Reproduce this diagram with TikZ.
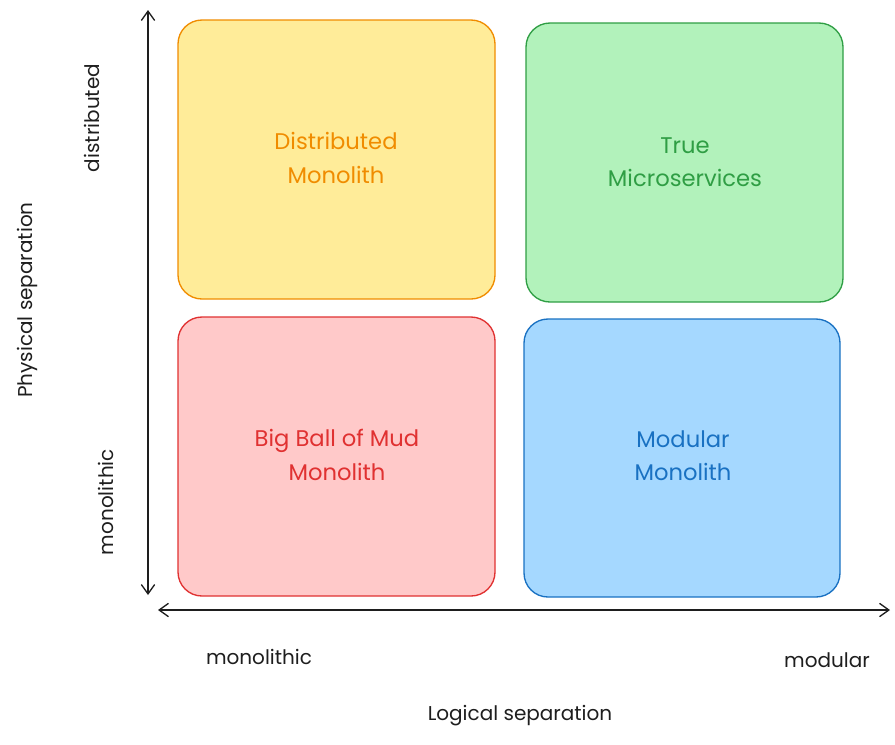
\documentclass[tikz,border=0pt]{standalone}
\usepackage{fontspec}
\setmainfont{Poppins}
\usetikzlibrary{arrows.meta}
\definecolor{yfill}{HTML}{FFEC99}\definecolor{ystroke}{HTML}{F08C00}
\definecolor{gfill}{HTML}{B2F2BB}\definecolor{gstroke}{HTML}{2F9E44}
\definecolor{rfill}{HTML}{FFC9C9}\definecolor{rstroke}{HTML}{E03131}
\definecolor{bfill}{HTML}{A5D8FF}\definecolor{bstroke}{HTML}{1971C2}
\definecolor{ink}{HTML}{1E1E1E}
\begin{document}
\begin{tikzpicture}[x=0.75pt,y=-0.75pt,
  box/.style={rounded corners=18pt,line width=1pt},
  btxt/.style={font=\fontsize{17}{25}\selectfont,align=center},
  lab/.style={font=\fontsize{15}{18}\selectfont,text=ink},
  ax/.style={line width=1pt,draw=ink,{Straight Barb[length=7pt,width=10pt]}-{Straight Barb[length=7pt,width=10pt]}}]
\useasboundingbox (0,0) rectangle (895,744);
\draw[box,fill=yfill,draw=ystroke] (178,20) rectangle (495,299);
\draw[box,fill=gfill,draw=gstroke] (526,23) rectangle (843,302);
\draw[box,fill=rfill,draw=rstroke] (178,317) rectangle (495,596);
\draw[box,fill=bfill,draw=bstroke] (524,319) rectangle (840,597);
\node[btxt,text=ystroke] (dm) at (336,158) {Distributed\\Monolith};
\node[btxt,text=gstroke] (tm) at (685,162) {True\\Microservices};
\node[btxt,text=rstroke] (bb) at (337,455) {Big Ball of Mud\\Monolith};
\node[btxt,text=bstroke] (mm) at (683,456) {Modular\\Monolith};
\coordinate (vt) at (148,10); \coordinate (vb) at (148,595);
\coordinate (hl) at (158,610); \coordinate (hr) at (890,610);
\draw[ax] (vt) -- (vb);
\draw[ax] (hl) -- (hr);
\node[lab,rotate=90] (d) at (92,118) {distributed};
\node[lab,rotate=90] (m1) at (106,502) {monolithic};
\node[lab,rotate=90] (ps) at (27,300) {Physical separation};
\node[lab] (m2) at (259,657) {monolithic};
\node[lab] (mo) at (827,660) {modular};
\node[lab] (ls) at (520,716) {Logical separation};
\end{tikzpicture}
\end{document}
